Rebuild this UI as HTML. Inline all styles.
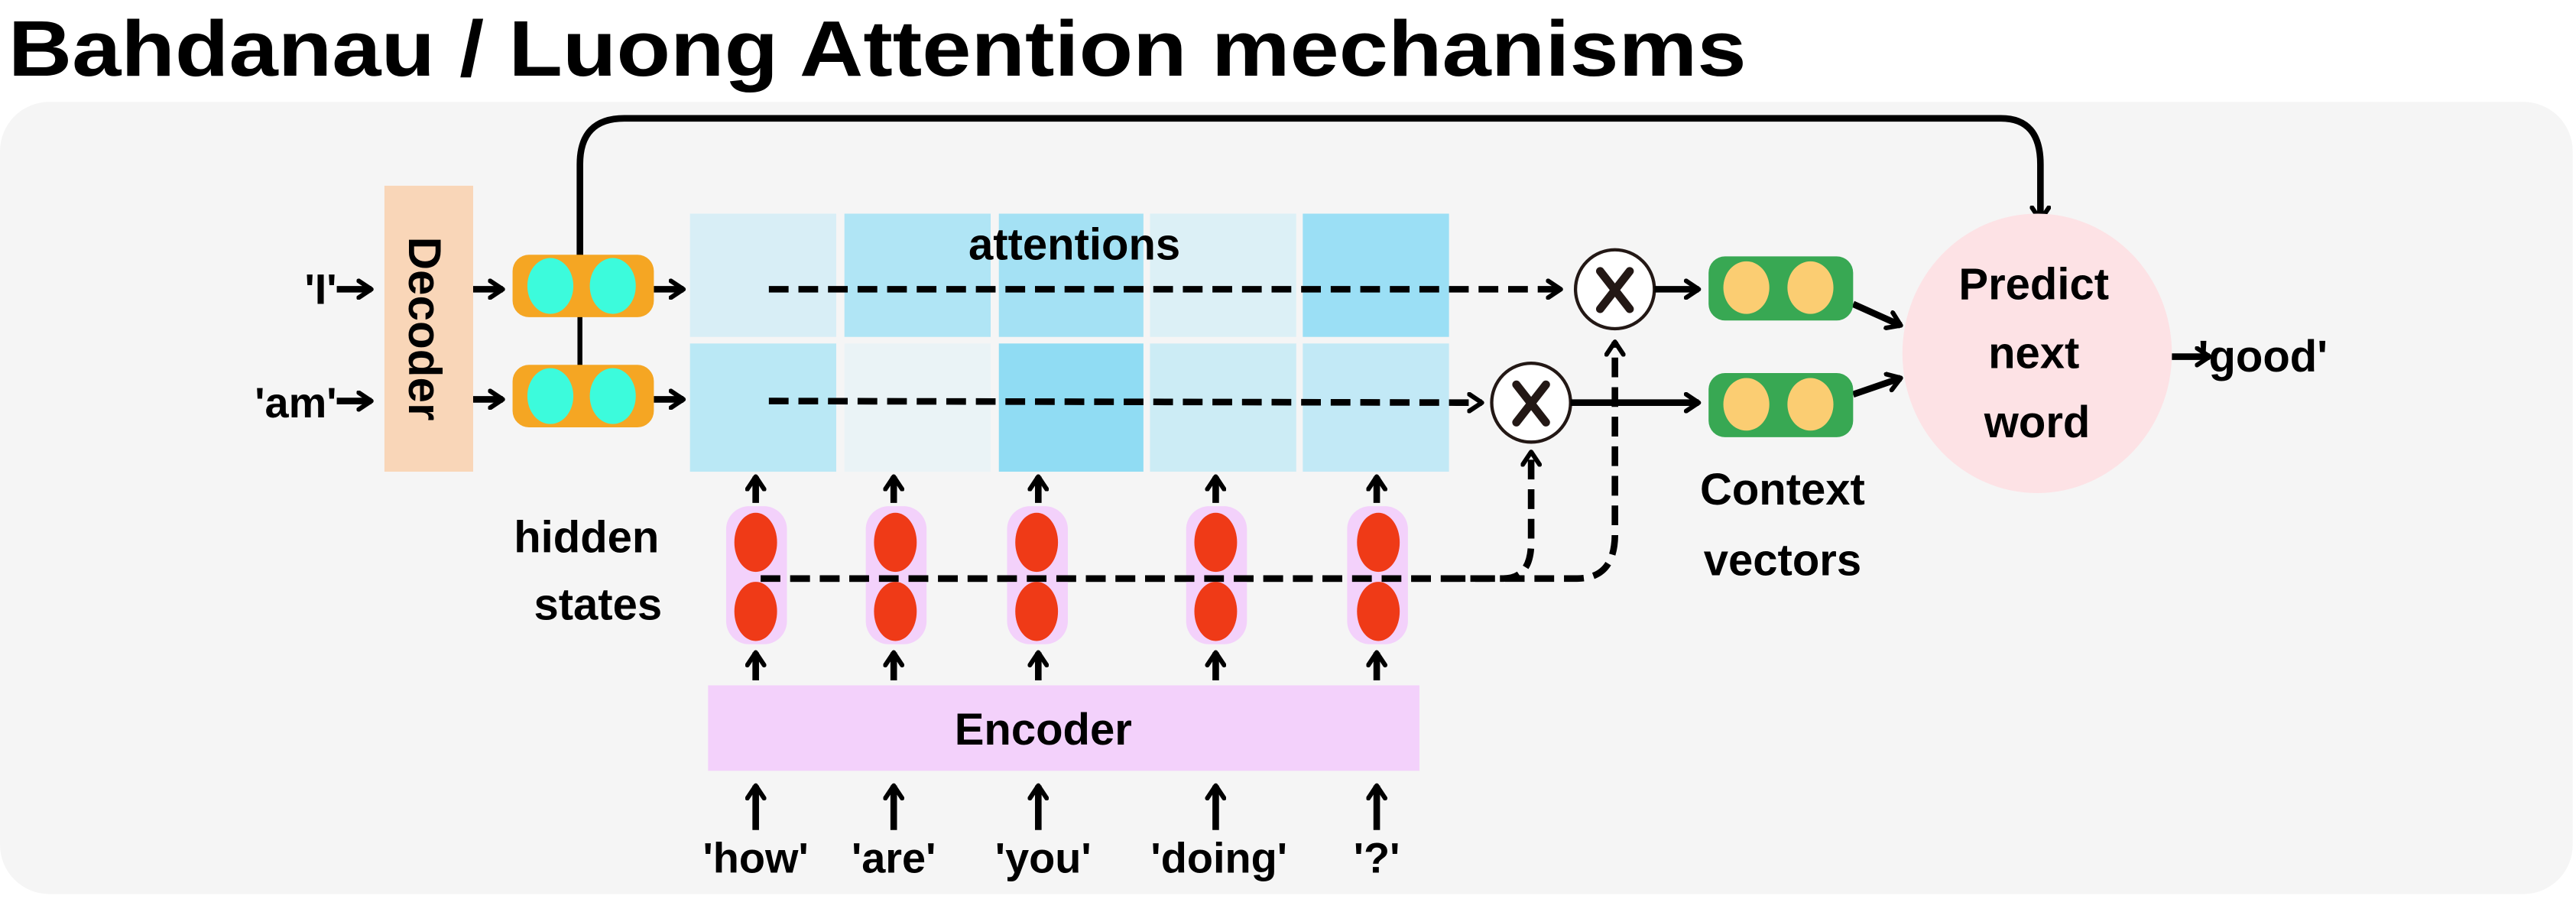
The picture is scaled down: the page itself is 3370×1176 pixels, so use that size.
<!DOCTYPE html>
<html><head><meta charset="utf-8"><style>
html,body{margin:0;padding:0;background:#fff;}
svg{display:block;}
text{font-family:"Liberation Sans",sans-serif;font-weight:bold;fill:#000;}
</style></head><body>
<svg width="3370" height="1176" viewBox="0 0 1568 547" preserveAspectRatio="none" xmlns="http://www.w3.org/2000/svg">
<defs>
<marker id="ah" viewBox="0 0 10 10" refX="7" refY="5" markerWidth="3.2" markerHeight="3.2" orient="auto" markerUnits="strokeWidth">
<path d="M1,1 L7,5 L1,9" fill="none" stroke="#000" stroke-width="2.2" stroke-linecap="round" stroke-linejoin="round"/>
</marker>
</defs>
<rect width="1568" height="547" fill="#fff"/>
<text x="5" y="46" font-size="48" textLength="1058" lengthAdjust="spacingAndGlyphs">Bahdanau / Luong Attention mechanisms</text>
<rect x="0" y="62" width="1566" height="482" rx="30" fill="#f5f5f5"/>

<!-- top feedback line -->
<path d="M353,158 L353,100 Q353,72 380,72 L1218,72 Q1242,72 1242,100 L1242,134" fill="none" stroke="#000" stroke-width="4" marker-end="url(#ah)"/>

<!-- decoder -->
<rect x="234" y="113" width="54" height="174" fill="#f9d6b8"/>
<text transform="translate(249,200) rotate(90)" text-anchor="middle" font-size="28">Decoder</text>
<text x="205" y="185" text-anchor="end" font-size="26">'I'</text>
<text x="205" y="254" text-anchor="end" font-size="26">'am'</text>
<g stroke="#000" stroke-width="4" fill="none" marker-end="url(#ah)">
<line x1="205" y1="176" x2="226" y2="176"/>
<line x1="205" y1="244" x2="226" y2="244"/>
<line x1="288" y1="176" x2="306" y2="176"/>
<line x1="288" y1="243" x2="306" y2="243"/>
<line x1="398" y1="176" x2="416" y2="176"/>
<line x1="398" y1="243" x2="416" y2="243"/>
</g>
<line x1="353" y1="192" x2="353" y2="225" stroke="#000" stroke-width="3"/>
<rect x="312" y="155" width="86" height="38" rx="10" fill="#f5a623"/>
<rect x="312" y="222" width="86" height="38" rx="10" fill="#f5a623"/>
<g fill="#3cfbdc">
<ellipse cx="335" cy="174" rx="14" ry="17"/><ellipse cx="373" cy="174" rx="14" ry="17"/>
<ellipse cx="335" cy="241" rx="14" ry="17"/><ellipse cx="373" cy="241" rx="14" ry="17"/>
</g>

<!-- attention grid -->
<rect x="420" y="130" width="89" height="75" fill="#d8eef6"/>
<rect x="514" y="130" width="89" height="75" fill="#b0e5f5"/>
<rect x="608" y="130" width="88" height="75" fill="#a4e1f4"/>
<rect x="700" y="130" width="89" height="75" fill="#dcf0f6"/>
<rect x="793" y="130" width="89" height="75" fill="#9bdff5"/>
<rect x="420" y="209" width="89" height="78" fill="#bae8f5"/>
<rect x="514" y="209" width="89" height="78" fill="#eaf3f6"/>
<rect x="608" y="209" width="88" height="78" fill="#90dcf3"/>
<rect x="700" y="209" width="89" height="78" fill="#ccecf5"/>
<rect x="793" y="209" width="89" height="78" fill="#c2e9f6"/>
<text x="654" y="158" text-anchor="middle" font-size="27">attentions</text>

<g stroke="#000" stroke-width="4" fill="none" stroke-dasharray="12,6">
<line x1="468" y1="176" x2="950" y2="176" marker-end="url(#ah)"/>
<line x1="468" y1="244" x2="902" y2="245" marker-end="url(#ah)"/>
<path d="M463,352 L915,352 Q932,352 932,330 L932,275" marker-end="url(#ah)"/>
<path d="M880,352 L960,352 Q983,352 983,325 L983,208" marker-end="url(#ah)"/>
</g>

<!-- multiply circles -->
<g stroke="#231815" stroke-width="2" fill="#fff">
<ellipse cx="983" cy="176" rx="24" ry="24"/>
<ellipse cx="932" cy="245" rx="24" ry="24"/>
</g>
<g stroke="#231815" stroke-width="5" stroke-linecap="round">
<line x1="974" y1="165" x2="992" y2="188"/><line x1="992" y1="165" x2="974" y2="188"/>
<line x1="923" y1="234" x2="941" y2="257"/><line x1="941" y1="234" x2="923" y2="257"/>
</g>
<g stroke="#000" stroke-width="4" fill="none" marker-end="url(#ah)">
<line x1="1007" y1="176" x2="1034" y2="176"/>
<line x1="956" y1="245" x2="1034" y2="245"/>
<line x1="1128" y1="185" x2="1157" y2="198"/>
<line x1="1128" y1="240" x2="1157" y2="230"/>
<line x1="1322" y1="217" x2="1345" y2="217"/>
</g>
<rect x="1040" y="156" width="88" height="39" rx="10" fill="#38a853"/>
<rect x="1040" y="227" width="88" height="39" rx="10" fill="#38a853"/>
<g fill="#fbcd72">
<ellipse cx="1063" cy="175" rx="14" ry="16"/><ellipse cx="1102" cy="175" rx="14" ry="16"/>
<ellipse cx="1063" cy="246" rx="14" ry="16"/><ellipse cx="1102" cy="246" rx="14" ry="16"/>
</g>
<text x="1085" y="307" text-anchor="middle" font-size="27">Context</text>
<text x="1085" y="350" text-anchor="middle" font-size="27">vectors</text>

<ellipse cx="1240" cy="215" rx="82" ry="85" fill="#fde2e5"/>
<text x="1238" y="182" text-anchor="middle" font-size="27">Predict</text>
<text x="1238" y="224" text-anchor="middle" font-size="27">next</text>
<text x="1240" y="266" text-anchor="middle" font-size="27">word</text>
<text x="1338" y="226" font-size="27">'good'</text>

<!-- hidden states -->
<text x="357" y="336" text-anchor="middle" font-size="27">hidden</text>
<text x="364" y="377" text-anchor="middle" font-size="27">states</text>
<g fill="#f3d1fb">
<rect x="442" y="308" width="37" height="84" rx="14"/>
<rect x="527" y="308" width="37" height="84" rx="14"/>
<rect x="613" y="308" width="37" height="84" rx="14"/>
<rect x="722" y="308" width="37" height="84" rx="14"/>
<rect x="820" y="308" width="37" height="84" rx="14"/>
</g>
<g fill="#ef3a17">
<ellipse cx="460" cy="330" rx="13" ry="18"/><ellipse cx="460" cy="372" rx="13" ry="18"/>
<ellipse cx="545" cy="330" rx="13" ry="18"/><ellipse cx="545" cy="372" rx="13" ry="18"/>
<ellipse cx="631" cy="330" rx="13" ry="18"/><ellipse cx="631" cy="372" rx="13" ry="18"/>
<ellipse cx="740" cy="330" rx="13" ry="18"/><ellipse cx="740" cy="372" rx="13" ry="18"/>
<ellipse cx="839" cy="330" rx="13" ry="18"/><ellipse cx="839" cy="372" rx="13" ry="18"/>
</g>
<line x1="463" y1="352" x2="880" y2="352" stroke="#000" stroke-width="4" stroke-dasharray="12,6"/>

<g stroke="#000" stroke-width="4" fill="none" marker-end="url(#ah)">
<line x1="460" y1="306" x2="460" y2="290"/><line x1="544" y1="306" x2="544" y2="290"/>
<line x1="632" y1="306" x2="632" y2="290"/><line x1="740" y1="306" x2="740" y2="290"/>
<line x1="838" y1="306" x2="838" y2="290"/>
<line x1="460" y1="414" x2="460" y2="397"/><line x1="544" y1="414" x2="544" y2="397"/>
<line x1="632" y1="414" x2="632" y2="397"/><line x1="740" y1="414" x2="740" y2="397"/>
<line x1="838" y1="414" x2="838" y2="397"/>
<line x1="460" y1="505" x2="460" y2="478"/><line x1="544" y1="505" x2="544" y2="478"/>
<line x1="632" y1="505" x2="632" y2="478"/><line x1="740" y1="505" x2="740" y2="478"/>
<line x1="838" y1="505" x2="838" y2="478"/>
</g>
<rect x="431" y="417" width="433" height="52" fill="#f3d1fb"/>
<text x="635" y="453" text-anchor="middle" font-size="27">Encoder</text>
<g font-size="26" text-anchor="middle">
<text x="460" y="531">'how'</text>
<text x="544" y="531">'are'</text>
<text x="635" y="531">'you'</text>
<text x="742" y="531">'doing'</text>
<text x="838" y="531">'?'</text>
</g>
</svg>
</body></html>
